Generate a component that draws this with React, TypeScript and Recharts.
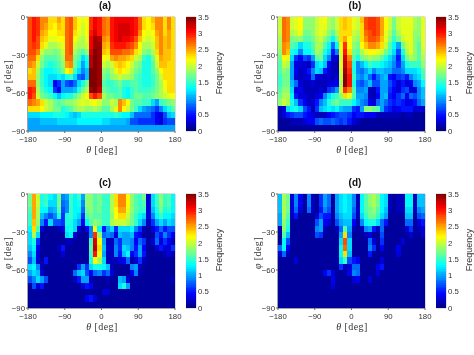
import { ScatterChart, Scatter, XAxis, YAxis, ReferenceArea } from 'recharts';

// frequency per 10 deg theta bin (columns, -180..180) and 5 deg phi bin (rows, 0..-90)
const panelA: number[][] = [
  [2.8,3.0,2.9,2.6,2.6,2.3,2.3,2.5,2.3,2.7,2.8,2.4,2.2,2.1,2.2,2.9,3.1,3.0,2.7,2.6,3.0,3.1,3.1,3.1,3.1,3.1,3.0,2.7,2.3,2.2,2.4,2.6,2.6,2.3,2.6,2.3],
  [2.8,3.0,2.9,2.6,2.5,2.3,2.2,2.4,2.3,2.7,2.8,2.4,2.2,2.0,2.2,2.9,3.1,3.0,2.7,2.6,3.0,3.1,3.2,3.2,3.2,3.1,3.0,2.7,2.3,2.2,2.3,2.6,2.6,2.3,2.6,2.3],
  [2.8,3.0,2.9,2.5,2.4,2.2,2.2,2.3,2.3,2.7,2.8,2.3,2.1,2.0,2.2,3.0,3.2,3.0,2.7,2.6,3.0,3.1,3.2,3.2,3.2,3.1,3.0,2.6,2.2,2.1,2.2,2.5,2.6,2.3,2.5,2.3],
  [2.8,3.0,2.8,2.4,2.3,2.1,2.1,2.2,2.2,2.7,2.8,2.2,2.0,1.9,2.1,3.1,3.4,3.3,2.6,2.5,3.0,3.1,3.2,3.1,3.1,3.0,2.8,2.4,2.1,2.0,2.1,2.4,2.6,2.4,2.5,2.3],
  [2.8,2.9,2.8,2.3,2.1,1.9,1.9,2.0,2.1,2.7,2.8,2.0,1.9,1.9,2.0,3.1,3.4,3.4,2.5,2.4,2.9,3.0,3.0,3.0,2.9,2.8,2.6,2.2,1.9,1.9,2.0,2.4,2.6,2.4,2.5,2.3],
  [2.8,2.8,2.6,2.0,1.8,1.8,1.7,1.8,2.0,2.7,2.8,1.9,1.7,1.6,1.8,3.2,3.5,3.4,2.4,2.3,2.8,2.8,2.8,2.7,2.7,2.6,2.3,2.1,1.8,1.7,1.9,2.3,2.6,2.4,2.4,2.3],
  [2.7,2.7,2.3,1.8,1.6,1.6,1.6,1.7,1.9,2.7,2.7,1.7,1.6,1.2,1.4,3.3,3.5,3.4,2.2,2.1,2.5,2.6,2.5,2.5,2.4,2.3,2.0,1.9,1.5,1.4,1.7,2.1,2.5,2.4,2.4,2.3],
  [2.6,2.5,2.0,1.7,1.5,1.4,1.5,1.6,1.8,2.5,2.6,1.7,1.4,1.0,1.3,3.3,3.5,3.4,2.0,1.9,2.0,2.3,2.4,2.3,2.2,2.0,1.8,1.7,1.4,1.4,1.6,2.0,2.4,2.4,2.3,2.3],
  [2.3,2.4,1.9,1.5,1.3,1.3,1.4,1.5,1.7,2.2,2.3,1.5,1.2,0.9,1.1,3.5,3.5,3.4,1.8,1.7,1.9,2.1,2.3,2.2,2.1,1.9,1.7,1.6,1.4,1.4,1.6,1.8,2.2,2.3,2.3,2.3],
  [2.4,2.4,1.8,1.5,1.3,1.2,1.2,1.3,1.2,1.4,1.5,1.2,0.8,0.7,1.1,3.5,3.5,3.4,1.7,1.6,1.8,1.9,2.0,1.9,1.9,1.8,1.6,1.5,1.4,1.4,1.5,1.7,2.0,2.3,2.3,2.3],
  [2.7,2.7,1.8,1.5,1.3,1.2,0.4,0.6,1.0,0.7,0.6,0.8,1.2,1.4,1.7,3.5,3.5,3.4,1.6,1.5,1.5,1.6,1.7,1.5,1.5,1.6,1.6,1.5,1.4,1.4,1.5,1.7,1.9,2.2,2.3,2.3],
  [3.0,2.9,1.9,1.6,1.4,1.3,0.6,0.4,1.0,1.0,1.0,1.1,1.4,1.7,1.9,3.4,3.5,3.3,1.7,1.6,1.5,1.5,1.6,1.4,1.3,1.5,1.6,1.5,1.5,1.5,1.6,1.7,1.9,2.1,2.3,2.3],
  [3.0,2.8,2.0,1.7,1.6,1.5,1.3,1.1,1.3,1.4,1.4,1.6,1.8,2.0,2.2,2.8,3.0,2.8,1.9,1.7,1.7,1.6,1.6,1.4,1.3,1.5,1.7,1.7,1.6,1.6,1.7,1.8,1.9,2.0,2.1,2.2],
  [2.7,2.6,2.5,2.3,2.0,1.9,1.7,1.6,1.7,1.8,1.8,1.9,2.0,2.1,2.0,2.1,2.2,2.0,1.8,1.8,2.0,1.9,2.6,2.4,2.2,1.7,1.6,1.6,1.5,1.5,1.2,1.0,1.5,1.6,1.7,1.8],
  [2.3,2.3,2.3,2.2,2.0,1.9,1.7,1.7,1.4,1.5,1.6,1.8,1.9,1.9,1.8,1.8,1.9,1.8,1.6,1.6,1.9,2.1,2.6,2.2,2.0,1.7,1.5,1.2,1.0,0.9,0.8,0.6,0.9,1.2,1.4,1.6],
  [1.2,1.2,1.2,1.3,1.3,1.3,1.4,1.4,1.4,1.3,1.2,1.1,1.2,1.4,1.4,1.4,1.4,1.4,1.4,1.4,1.4,1.5,1.4,1.3,1.3,1.1,0.8,0.8,0.8,0.8,0.6,0.4,0.3,0.7,1.1,1.2],
  [1.0,1.0,1.0,1.1,1.1,1.1,1.1,1.2,1.2,1.2,1.2,1.2,1.3,1.3,1.3,1.3,1.3,1.3,1.2,1.2,1.1,1.1,1.1,1.1,1.0,0.7,0.7,0.6,0.6,0.6,0.6,0.4,0.3,0.6,0.7,0.7],
  [1.0,1.0,1.0,1.0,1.0,1.0,1.0,1.0,1.0,1.0,1.0,1.0,1.0,1.0,1.0,1.0,1.0,1.0,1.0,1.0,1.0,1.0,1.0,1.0,1.0,1.0,1.0,1.0,1.0,1.0,1.0,1.0,1.0,1.0,1.0,1.0],
];

const panelB: number[][] = [
  [2.0,2.7,2.6,2.0,2.1,2.2,1.8,1.8,1.8,2.0,2.1,2.2,1.9,1.8,2.0,2.3,2.4,2.3,2.1,2.0,2.4,2.8,2.9,2.9,2.8,2.5,2.2,2.0,1.7,2.0,2.1,2.1,2.1,1.9,1.8,2.1],
  [2.0,2.7,2.6,2.0,2.1,2.2,1.8,1.8,1.8,2.0,2.1,2.1,1.9,1.8,2.0,2.3,2.4,2.3,2.1,2.0,2.3,2.8,2.9,2.9,2.8,2.5,2.2,2.0,1.7,2.0,2.1,2.1,2.1,1.9,1.8,2.1],
  [2.0,2.7,2.6,1.9,2.0,2.1,1.7,1.7,1.8,2.0,2.1,2.0,1.8,1.6,1.9,2.3,2.3,2.3,2.0,1.9,2.3,2.7,2.8,2.9,2.8,2.5,2.1,1.9,1.6,1.9,2.1,2.1,2.1,1.8,1.8,2.1],
  [1.9,2.7,2.6,1.7,1.8,1.8,1.6,1.6,1.7,1.9,2.0,1.8,1.6,1.3,1.7,2.3,2.5,2.2,1.9,1.8,2.3,2.6,2.8,2.8,2.7,2.4,2.1,1.8,1.5,1.7,2.0,2.1,2.1,1.8,1.7,2.1],
  [1.9,2.6,2.5,1.6,1.5,1.2,1.4,1.4,1.6,1.9,1.9,1.6,1.3,0.8,1.3,2.2,2.9,2.2,1.8,1.7,2.2,2.4,2.6,2.6,2.5,2.3,2.0,1.6,1.3,1.0,1.7,2.0,2.1,1.8,1.6,2.1],
  [1.8,2.6,2.4,1.4,1.3,0.9,1.3,1.3,1.5,1.9,1.8,1.4,1.2,0.5,0.9,2.1,3.0,2.3,1.7,1.6,1.9,2.1,2.2,2.2,2.1,2.0,1.7,1.5,1.2,0.7,1.4,1.9,2.1,1.8,1.6,2.0],
  [1.7,2.2,2.1,1.2,0.6,0.4,0.7,0.6,1.0,1.6,1.7,1.2,0.9,0.3,0.3,2.0,3.2,2.6,1.6,1.4,1.7,1.8,1.9,1.8,1.8,1.6,1.4,1.2,1.0,0.5,1.2,1.7,1.9,1.8,1.6,1.9],
  [1.6,2.0,1.9,1.0,0.3,0.3,0.3,0.2,0.6,1.2,1.3,1.1,0.4,0.2,0.2,2.1,3.3,2.8,1.4,0.9,1.1,1.3,1.5,1.4,1.4,1.3,1.2,1.1,0.9,0.6,1.0,1.4,1.5,1.5,1.5,1.8],
  [1.6,1.8,1.7,1.0,0.4,0.2,0.3,0.5,0.9,1.2,1.1,0.5,0.3,0.2,0.2,2.0,3.4,2.9,1.4,0.9,0.8,1.0,1.2,0.9,1.1,1.1,1.0,1.0,0.8,0.8,0.9,1.2,1.2,1.2,1.3,1.6],
  [1.5,1.7,1.7,1.0,0.3,0.2,0.3,0.3,0.8,0.3,0.3,0.2,0.3,0.2,0.3,2.0,3.5,3.0,1.5,1.0,0.9,1.1,0.8,0.5,0.8,1.0,1.1,0.5,0.4,0.6,0.7,0.5,0.9,1.1,1.2,1.5],
  [1.5,1.7,1.7,1.1,0.8,0.3,0.2,0.2,0.3,0.2,0.2,0.2,0.3,0.3,0.4,1.9,3.5,3.0,1.4,0.8,0.7,0.9,1.1,0.7,0.7,1.0,1.0,0.7,0.5,0.3,0.5,0.3,0.4,0.9,1.0,1.3],
  [1.6,1.8,1.8,1.2,0.3,0.4,0.2,0.2,0.2,0.2,0.3,0.2,0.6,0.7,1.0,2.0,2.9,2.6,1.6,0.9,0.9,1.0,0.2,0.2,0.5,1.0,1.0,0.6,0.4,0.3,0.6,0.7,0.3,0.3,0.9,1.1],
  [1.7,1.9,1.9,1.3,0.5,0.3,0.3,0.2,0.2,0.3,0.4,0.9,1.2,1.4,1.5,1.8,2.3,2.1,1.6,1.0,1.0,0.9,0.2,0.2,0.4,1.0,1.1,0.5,0.4,0.6,0.8,0.4,0.8,0.7,0.9,1.1],
  [1.8,2.0,1.9,1.4,1.1,0.6,0.4,0.2,0.3,0.5,0.9,1.1,1.4,1.6,1.7,1.5,1.5,1.5,1.3,1.1,0.9,0.8,0.4,0.3,0.8,1.0,0.8,0.6,0.5,0.6,0.5,0.3,0.4,0.5,0.8,1.0],
  [0.2,0.3,1.2,1.3,1.4,1.2,0.7,0.5,0.2,0.6,1.1,1.2,1.3,1.2,1.3,1.1,1.0,1.0,0.6,0.5,1.0,1.8,1.8,1.7,1.6,1.0,0.6,0.5,0.3,0.4,0.5,0.5,0.5,0.3,0.3,0.3],
  [0.2,0.3,0.5,0.6,0.7,0.7,0.5,0.4,0.3,0.2,0.2,0.2,0.4,0.5,0.6,0.7,0.7,0.6,0.4,0.5,0.5,0.4,0.4,0.4,0.2,0.2,0.2,0.2,0.2,0.2,0.1,0.2,0.2,0.1,0.1,0.1],
  [0.1,0.1,0.1,0.2,0.2,0.2,0.3,0.4,0.4,0.7,0.8,0.7,0.7,0.8,0.7,0.6,0.7,0.5,0.3,0.2,0.1,0.1,0.1,0.1,0.1,0.1,0.1,0.1,0.1,0.1,0.1,0.1,0.1,0.1,0.1,0.1],
  [0.1,0.1,0.1,0.1,0.1,0.1,0.1,0.1,0.1,0.1,0.1,0.1,0.1,0.1,0.1,0.1,0.1,0.1,0.1,0.1,0.1,0.1,0.1,0.1,0.1,0.1,0.1,0.1,0.1,0.1,0.1,0.1,0.1,0.1,0.1,0.1],
];

const panelC: number[][] = [
  [1.7,2.5,2.0,1.4,1.5,1.3,1.2,1.7,0.9,1.0,1.5,1.3,1.5,1.0,1.8,1.8,1.6,1.7,1.5,1.5,1.9,2.3,2.6,2.6,2.2,1.8,1.6,1.5,1.7,0.3,1.2,1.5,1.8,1.5,1.6,1.3],
  [1.7,2.5,2.0,1.4,1.5,1.2,1.2,1.7,0.8,0.9,1.5,1.3,1.4,0.9,1.8,1.8,1.6,1.7,1.5,1.5,1.9,2.3,2.6,2.6,2.2,1.8,1.6,1.5,1.6,0.3,1.2,1.5,1.8,1.5,1.6,1.3],
  [1.6,2.5,1.9,1.3,1.3,1.0,1.1,1.6,0.7,0.9,1.5,1.3,1.3,0.8,1.7,1.8,1.6,1.7,1.5,1.5,1.9,2.2,2.5,2.5,2.1,1.8,1.6,1.5,1.5,0.3,1.1,1.4,1.7,1.4,1.5,1.3],
  [1.5,2.5,1.9,1.1,0.9,0.7,0.9,1.4,0.6,1.4,1.5,1.3,1.2,0.6,1.6,1.7,1.6,1.6,1.5,1.5,1.8,2.2,2.3,2.3,2.0,1.7,1.5,1.3,1.2,0.3,0.9,1.3,1.5,1.3,1.3,1.2],
  [1.5,2.4,1.8,0.9,0.5,1.2,0.7,0.7,0.6,1.4,1.4,1.2,1.0,0.4,1.3,1.6,1.8,1.7,1.5,1.5,1.9,2.0,2.0,2.0,1.9,1.7,1.5,1.2,0.9,0.2,0.6,1.0,1.2,1.0,1.2,1.1],
  [1.3,2.3,1.6,0.3,0.1,0.1,0.1,0.2,0.3,1.3,1.4,1.2,0.3,0.1,0.4,0.9,2.2,1.3,0.5,1.0,1.2,0.6,1.2,1.2,1.2,1.3,0.9,0.6,0.2,0.1,0.3,0.5,0.8,0.5,0.7,0.7],
  [1.2,1.9,1.2,0.1,0.1,0.1,0.1,0.1,0.1,1.2,1.3,0.3,0.1,0.1,0.1,0.9,2.9,1.8,0.8,0.9,0.8,0.3,1.1,1.0,1.0,1.1,0.5,0.4,0.1,0.1,0.1,0.7,0.5,0.9,0.6,0.4],
  [1.2,1.4,0.6,0.1,0.1,0.1,0.1,0.1,0.1,0.2,0.2,0.1,0.1,0.1,0.1,1.5,3.2,2.2,1.0,0.2,0.2,0.8,0.6,1.0,1.0,0.9,0.4,0.8,0.6,0.1,0.3,0.8,0.3,0.6,0.4,0.2],
  [1.1,1.3,0.4,0.1,0.1,0.1,0.1,0.2,0.5,0.1,0.1,0.1,0.1,0.1,0.1,1.6,3.3,2.3,1.1,0.3,0.2,0.9,0.6,1.2,1.1,0.9,0.5,1.0,0.4,0.1,0.1,0.3,0.5,0.3,0.3,0.6],
  [0.9,1.2,0.3,0.1,0.1,0.1,0.1,0.1,0.3,0.1,0.1,0.1,0.1,0.1,0.1,1.5,3.0,2.1,1.0,0.2,0.2,0.9,0.5,1.1,1.3,0.4,0.6,1.0,0.5,0.1,0.1,0.1,0.1,0.2,0.3,0.2],
  [0.7,1.1,0.3,0.1,0.5,0.1,0.1,0.1,0.1,0.1,0.1,0.1,0.1,0.1,0.1,1.4,2.2,1.9,1.2,0.2,0.2,0.2,0.3,0.4,0.8,0.1,0.3,0.6,0.2,0.1,0.1,0.1,0.1,0.1,0.1,0.1],
  [1.2,1.3,0.9,0.2,0.1,0.1,0.1,0.1,0.1,0.1,0.1,0.1,0.6,1.0,0.6,1.2,1.4,1.4,1.3,1.1,0.2,0.1,0.1,0.1,0.1,0.9,1.0,0.2,0.1,0.1,0.1,0.1,0.1,0.1,0.1,0.1],
  [1.0,1.2,1.1,0.3,0.1,0.1,0.1,0.1,0.1,0.1,0.1,0.8,1.1,1.2,0.7,0.4,0.8,0.9,0.6,0.8,0.3,0.1,0.1,0.1,0.1,0.4,0.9,0.2,0.1,0.1,0.1,0.1,0.1,0.1,0.1,0.1],
  [0.7,0.9,1.2,1.0,0.7,0.1,0.1,0.1,0.1,0.1,0.1,0.2,0.5,1.0,1.0,0.2,0.1,0.1,0.1,0.2,0.1,0.1,1.1,1.0,0.3,0.1,0.1,0.1,0.1,0.1,0.1,0.1,0.1,0.1,0.1,0.2],
  [0.1,0.7,0.3,0.5,0.1,0.1,0.1,0.1,0.1,0.1,0.1,0.1,0.1,0.3,0.5,0.4,0.1,0.1,0.1,0.1,0.1,0.1,1.2,1.4,1.0,0.1,0.1,0.1,0.1,0.1,0.1,0.1,0.1,0.1,0.1,0.1],
  [0.1,0.1,0.1,0.1,0.1,0.1,0.1,0.1,0.1,0.1,0.1,0.1,0.1,0.1,0.1,0.1,0.1,0.1,0.3,0.3,0.1,0.1,0.1,0.1,0.1,0.1,0.1,0.1,0.1,0.1,0.1,0.1,0.1,0.1,0.1,0.1],
  [0.1,0.1,0.1,0.1,0.1,0.1,0.1,0.1,0.1,0.1,0.1,0.1,0.1,0.1,0.4,0.5,0.3,0.1,0.1,0.1,0.1,0.1,0.1,0.1,0.1,0.1,0.1,0.1,0.1,0.1,0.1,0.1,0.1,0.1,0.1,0.1],
  [0.1,0.1,0.1,0.1,0.1,0.1,0.1,0.1,0.1,0.1,0.1,0.1,0.1,0.1,0.1,0.1,0.1,0.1,0.1,0.1,0.1,0.1,0.1,0.1,0.1,0.1,0.1,0.1,0.1,0.1,0.1,0.1,0.1,0.1,0.1,0.1],
];

const panelD: number[][] = [
  [1.1,1.9,1.7,0.3,0.9,0.4,0.1,0.9,0.2,0.1,0.6,1.0,0.8,0.1,1.0,1.2,1.3,1.2,0.9,0.2,1.3,1.6,1.8,1.9,1.7,1.3,1.2,0.2,0.1,0.2,0.2,1.3,1.3,0.2,1.1,1.1],
  [1.1,1.9,1.7,0.3,0.9,0.4,0.1,0.9,0.2,0.1,0.6,1.0,0.8,0.1,1.0,1.2,1.3,1.2,0.9,0.2,1.3,1.6,1.8,1.9,1.7,1.3,1.2,0.2,0.1,0.2,0.2,1.3,1.3,0.2,1.1,1.1],
  [1.1,1.9,1.7,0.3,0.8,0.3,0.1,0.8,0.2,0.1,0.5,0.9,0.7,0.1,1.0,1.2,1.3,1.2,0.8,0.2,1.3,1.6,1.7,1.8,1.6,1.3,1.1,0.2,0.1,0.2,0.2,1.2,1.2,0.2,0.9,1.0],
  [1.0,1.9,1.6,0.2,0.5,0.1,0.1,0.1,0.1,0.3,0.7,0.5,0.5,0.1,0.9,1.1,1.2,1.2,0.7,0.2,1.2,1.5,1.7,1.7,1.5,1.2,1.0,0.1,0.1,0.1,0.1,1.1,1.1,0.1,0.7,0.8],
  [1.0,1.8,1.5,0.1,0.1,0.1,0.1,0.1,0.1,0.7,1.0,0.4,0.3,0.1,0.7,1.0,1.1,1.1,0.4,0.1,0.9,1.3,1.4,1.4,1.2,0.8,0.5,0.1,0.1,0.1,0.1,0.8,0.8,0.1,0.3,0.5],
  [0.2,1.8,1.4,0.1,0.1,0.1,0.1,0.1,0.1,0.9,1.0,0.2,0.1,0.1,0.2,0.8,1.6,1.0,0.2,0.1,0.2,0.9,1.0,0.5,0.2,0.8,0.1,0.1,0.1,0.1,0.1,0.3,0.6,0.1,0.2,0.3],
  [0.1,1.6,1.1,0.1,0.1,0.1,0.1,0.1,0.1,0.7,0.6,0.1,0.1,0.1,0.1,1.0,2.3,0.9,0.1,0.1,0.1,0.2,0.3,0.1,0.1,0.7,0.1,0.1,0.1,0.1,0.1,0.1,0.3,0.1,0.1,0.3],
  [0.1,1.3,0.7,0.1,0.1,0.1,0.1,0.1,0.1,0.1,0.1,0.1,0.1,0.1,0.1,1.2,2.8,1.2,0.1,0.1,0.1,0.1,0.8,0.3,0.1,0.6,0.1,0.1,0.1,0.1,0.3,0.1,0.1,0.1,0.1,0.1],
  [0.8,1.3,0.4,0.1,0.1,0.1,0.1,0.1,0.1,0.1,0.1,0.1,0.1,0.1,0.1,1.3,2.7,1.2,0.1,0.1,0.1,0.1,0.9,0.6,0.1,0.4,0.1,0.1,0.1,0.4,0.1,0.1,0.1,0.1,0.1,0.1],
  [0.3,0.8,0.2,0.1,0.1,0.1,0.1,0.1,0.1,0.1,0.1,0.1,0.1,0.1,0.1,1.3,2.3,1.1,0.1,0.1,0.1,0.1,0.5,0.1,0.1,0.1,0.1,0.1,0.1,0.3,0.1,0.1,0.1,0.1,0.1,0.1],
  [0.1,0.1,0.1,0.1,0.3,0.1,0.1,0.1,0.1,0.1,0.1,0.1,0.1,0.1,0.1,1.2,1.5,0.7,0.5,0.4,0.1,0.1,0.1,0.1,0.1,0.3,0.1,0.1,0.1,0.1,0.1,0.1,0.1,0.1,0.1,0.1],
  [0.1,0.1,0.1,0.1,0.1,0.1,0.1,0.1,0.1,0.1,0.1,0.1,0.1,0.1,0.1,0.6,0.2,0.3,0.8,0.8,0.1,0.1,0.1,0.1,0.4,0.5,0.1,0.1,0.1,0.1,0.1,0.1,0.1,0.1,0.1,0.1],
  [0.1,0.1,0.1,0.1,0.1,0.1,0.1,0.1,0.1,0.1,0.1,0.4,0.6,0.3,0.1,0.1,0.1,0.4,0.9,0.8,0.1,0.1,0.1,0.1,0.3,0.1,0.1,0.1,0.1,0.1,0.1,0.1,0.1,0.1,0.1,0.1],
  [0.1,0.1,0.1,0.1,0.1,0.1,0.1,0.1,0.1,0.1,0.1,0.1,0.1,0.4,0.1,0.1,0.1,0.1,0.3,0.4,0.1,0.1,0.3,0.1,0.1,0.1,0.1,0.1,0.1,0.1,0.1,0.1,0.1,0.1,0.1,0.1],
  [0.1,0.1,0.1,0.1,0.1,0.1,0.1,0.1,0.1,0.1,0.1,0.1,0.1,0.3,0.1,0.1,0.1,0.1,0.1,0.1,0.1,0.1,0.1,0.1,0.1,0.1,0.1,0.1,0.1,0.1,0.1,0.1,0.1,0.1,0.1,0.1],
  [0.1,0.1,0.1,0.1,0.1,0.1,0.1,0.1,0.1,0.1,0.1,0.1,0.1,0.1,0.1,0.1,0.1,0.1,0.1,0.1,0.1,0.1,0.1,0.1,0.1,0.1,0.1,0.1,0.1,0.1,0.1,0.1,0.1,0.1,0.1,0.1],
  [0.1,0.1,0.1,0.1,0.1,0.1,0.1,0.1,0.1,0.1,0.1,0.1,0.1,0.1,0.1,0.1,0.1,0.1,0.1,0.1,0.1,0.1,0.1,0.1,0.1,0.1,0.1,0.1,0.1,0.1,0.1,0.1,0.1,0.1,0.1,0.1],
  [0.1,0.1,0.1,0.1,0.1,0.1,0.1,0.1,0.1,0.1,0.1,0.1,0.1,0.1,0.1,0.1,0.1,0.1,0.1,0.1,0.1,0.1,0.1,0.1,0.1,0.1,0.1,0.1,0.1,0.1,0.1,0.1,0.1,0.1,0.1,0.1],
];

const thetaTicks = [-180, -90, 0, 90, 180];
const phiTicks = [-90, -60, -30, 0];
const freqTicks = [0, 0.5, 1, 1.5, 2, 2.5, 3, 3.5];
const panels = [
  { title: '(a)', grid: panelA, left: 0, top: 0 },
  { title: '(b)', grid: panelB, left: 250, top: 0 },
  { title: '(c)', grid: panelC, left: 0, top: 177 },
  { title: '(d)', grid: panelD, left: 250, top: 177 },
];

const MAX_FREQ = 3.5;
const PLOT_W = 147;
const PLOT_H = 114;
const BAR_W = 10;
const BAR_LEVELS = 64;
const FONT = '"Liberation Sans", Arial, sans-serif';
const SERIF = '"Liberation Serif", serif';
const TICK = { fontSize: 7.8, fill: '#333', fontFamily: FONT };

const clamp = (v: number) => Math.max(0, Math.min(1, v));
// matlab's jet colormap
const jet = (t: number) => {
  const r = clamp(Math.min(4 * t - 1.5, -4 * t + 4.5));
  const g = clamp(Math.min(4 * t - 0.5, -4 * t + 3.5));
  const b = clamp(Math.min(4 * t + 0.5, -4 * t + 2.5));
  return `rgb(${Math.round(r * 255)},${Math.round(g * 255)},${Math.round(b * 255)})`;
};

const minus = (v: number) => String(v).replace('-', '\u2212');

const toPoints = (grid: number[][]) =>
  grid.flatMap((row, r) =>
    row.map((value, c) => ({ theta: -175 + 10 * c, phi: -2.5 - 5 * r, value }))
  );

const HeatCell = ({ cx, cy, payload }: any) => (
  <rect
    x={cx - PLOT_W / 72}
    y={cy - PLOT_H / 36}
    width={PLOT_W / 36}
    height={PLOT_H / 18}
    fill={jet(payload.value / MAX_FREQ)}
    shapeRendering="crispEdges"
  />
);

const BarCell = ({ cx, cy, payload }: any) => (
  <rect
    x={cx - BAR_W / 2}
    y={cy - PLOT_H / BAR_LEVELS / 2}
    width={BAR_W}
    height={PLOT_H / BAR_LEVELS}
    fill={jet(payload.level / MAX_FREQ)}
    shapeRendering="crispEdges"
  />
);

const barData = Array.from({ length: BAR_LEVELS }, (_, i) => ({
  x: 0.5,
  level: ((i + 0.5) / BAR_LEVELS) * MAX_FREQ,
}));

const Heatmap = ({ grid }: { grid: number[][] }) => (
  <ScatterChart width={28 + PLOT_W + 12} height={17 + PLOT_H + 17} margin={{ top: 17, right: 12, bottom: 0, left: 0 }}>
    <XAxis
      type="number"
      dataKey="theta"
      domain={[-180, 180]}
      ticks={thetaTicks}
      interval={0}
      height={17}
      tickSize={2}
      tickMargin={3}
      tick={TICK}
      tickFormatter={minus}
      stroke="#666"
    />
    <YAxis
      type="number"
      dataKey="phi"
      domain={[-90, 0]}
      ticks={phiTicks}
      interval={0}
      width={28}
      tickSize={2}
      tickMargin={1}
      tick={TICK}
      tickFormatter={minus}
      stroke="#666"
    />
    <Scatter className="cells" data={toPoints(grid)} shape={<HeatCell />} isAnimationActive={false} />
    <ReferenceArea x1={-180} x2={180} y1={-90} y2={0} fill="none" stroke="#888" strokeWidth={0.6} />
  </ScatterChart>
);

const ColorBar = () => (
  <ScatterChart width={BAR_W + 20} height={17 + PLOT_H + 8} margin={{ top: 17, right: 0, bottom: 8, left: 0 }}>
    <XAxis type="number" dataKey="x" domain={[0, 1]} hide />
    <YAxis
      type="number"
      dataKey="level"
      orientation="right"
      domain={[0, MAX_FREQ]}
      ticks={freqTicks}
      interval={0}
      width={20}
      tickSize={0}
      tickMargin={2}
      tick={TICK}
      axisLine={false}
    />
    <Scatter data={barData} shape={<BarCell />} isAnimationActive={false} />
    <ReferenceArea x1={0} x2={1} y1={0} y2={MAX_FREQ} fill="none" stroke="#888" strokeWidth={0.5} />
  </ScatterChart>
);

export default function App() {
  return (
    <div style={{ position: 'absolute', left: 0, top: 0, width: 474, height: 355, overflow: 'hidden', background: '#fff', filter: 'blur(0.35px)' }}>
      <style>{'.recharts-scatter{filter:blur(0.7px)}'}</style>
      {panels.map(p => (
        <div key={p.title}>
          <div style={{ position: 'absolute', left: p.left, top: p.top }}>
            <Heatmap grid={p.grid} />
          </div>
          <div style={{ position: 'absolute', left: p.left + 186, top: p.top }}>
            <ColorBar />
          </div>
        </div>
      ))}
      <svg width={474} height={355} style={{ position: 'absolute', left: 0, top: 0 }}>
        {panels.map(p => (
          <g key={p.title} transform={`translate(${p.left},${p.top})`}>
            <text x={105} y={9} textAnchor="middle" fontFamily={FONT} fontWeight="bold" fontSize={10} fill="#111">
              {p.title}
            </text>
            <text x={102} y={153} textAnchor="middle" fontFamily={SERIF} fontSize={10} letterSpacing={0.4} fill="#333">
              <tspan fontStyle="italic">{'\u03b8'}</tspan> [deg]
            </text>
            <text transform="translate(11,76) rotate(-90)" textAnchor="middle" fontFamily={SERIF} fontSize={10} letterSpacing={0.4} fill="#333">
              <tspan fontStyle="italic">{'\u03c6'}</tspan> [deg]
            </text>
            <text transform="translate(222,73) rotate(-90)" textAnchor="middle" fontFamily={FONT} fontSize={9} fill="#333">
              Frequency
            </text>
          </g>
        ))}
        <text x={20} y={364} fontFamily={FONT} fontWeight="bold" fontSize={13.5} fill="#111">
          Fig. 12
        </text>
        <text x={90} y={364} fontFamily={FONT} fontWeight="bold" fontSize={13.5} fill="#111">
          Histograms of
        </text>
      </svg>
    </div>
  );
}
